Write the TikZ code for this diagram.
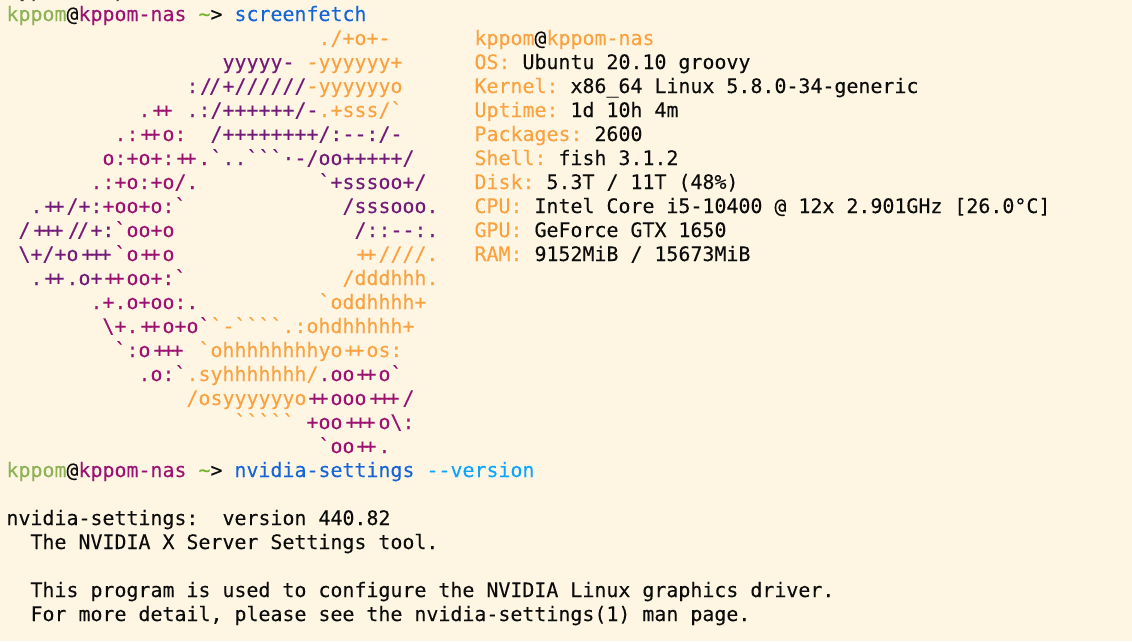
\documentclass[tikz,border=0pt]{standalone}
\usepackage{fontspec}
\newfontfamily\termfont[Ligatures=NoCommon,FakeBold=0.12]{DejaVu Sans Mono}
\definecolor{bgc}{HTML}{FEF6E3}
\definecolor{pgreen}{HTML}{8DB254}
\definecolor{tgreen}{HTML}{74B32A}
\definecolor{cmag}{HTML}{9C1272}
\definecolor{cpur}{HTML}{741B7A}
\definecolor{corg}{HTML}{F9A23F}
\definecolor{cblue}{HTML}{1565D8}
\definecolor{csky}{HTML}{0AA5FF}
\definecolor{cink}{HTML}{0C0C0C}
\newcommand{\ligpp}{\makebox[24pt][c]{+\kern-4pt+}}
\newcommand{\ligppp}{\makebox[36pt][c]{+\kern-3pt+\kern-3pt+}}
\newcommand{\ligss}{\makebox[24pt][c]{/\kern-3pt/}}
\newcommand{\rdot}{\raisebox{5pt}{.}}
\newcommand{\bs}{\textbackslash}
\newcommand{\run}[4]{\node[term,text=#3] at ({6.5+#1*12},{-21-24*#2}) {#4};}
\newcommand{\prompt}[1]{%
  \run{0}{#1}{pgreen}{kppom}\run{5}{#1}{cink}{@}\run{6}{#1}{cmag}{kppom-nas}%
  \run{16}{#1}{tgreen}{\string~}\run{17}{#1}{cink}{>}}
\tikzset{term/.style={anchor=base west,inner sep=0pt,outer sep=0pt,font=\termfont\fontsize{19.93pt}{24pt}\selectfont}}
\begin{document}
\begin{tikzpicture}[x=1pt,y=1pt]
\useasboundingbox (0,-641) rectangle (1132,0);
\fill[bgc] (0,-641) rectangle (1132,0);
% remnants of the scrolled-off line
\fill[cink!80!bgc] (20.5,-1.2) rectangle (23.5,0) (32.5,-1.2) rectangle (34.5,0) (116.5,-1.2) rectangle (118.5,0);
% prompt
\prompt{0}
\run{19}{0}{cblue}{screenfetch}
% logo
\run{26}{1}{corg}{./+o+-}
\run{18}{2}{cpur}{yyyyy-}\run{25}{2}{corg}{-yyyyyy+}
\run{15}{3}{cpur}{:\ligss+//////}\run{25}{3}{corg}{-yyyyyyo}
\run{11}{4}{cmag}{.\ligpp}\run{15}{4}{cpur}{.:/++++++/-}\run{26}{4}{corg}{.+sss/`}
\run{9}{5}{cmag}{.:\ligpp o:}\run{17}{5}{cpur}{/++++++++/:--:/-}
\run{8}{6}{cmag}{o:+o+:\ligpp.}\run{17}{6}{cpur}{`..```\rdot-/oo+++++/}
\run{7}{7}{cmag}{.:+o:+o/.}\run{26}{7}{cpur}{`+sssoo+/}
\run{2}{8}{cpur}{.\ligpp/+:}\run{8}{8}{cmag}{+oo+o:`}\run{28}{8}{cpur}{/sssooo.}
\run{1}{9}{cpur}{/\ligppp\ligss+:}\run{9}{9}{cmag}{`oo+o}\run{29}{9}{cpur}{/::--:.}
\run{1}{10}{cpur}{\bs+/+o\ligppp}\run{9}{10}{cmag}{`o\ligpp o}\run{29}{10}{corg}{\ligpp////.}
\run{2}{11}{cpur}{.\ligpp.o+}\run{8}{11}{cmag}{\ligpp oo+:`}\run{28}{11}{corg}{/dddhhh.}
\run{7}{12}{cmag}{.+.o+oo:.}\run{26}{12}{corg}{`oddhhhh+}
\run{8}{13}{cmag}{\bs+.\ligpp o+o`}\run{17}{13}{corg}{`-````.:ohdhhhhh+}
\run{9}{14}{cmag}{`:o\ligppp}\run{16}{14}{corg}{`ohhhhhhhhyo\ligpp os:}
\run{11}{15}{cmag}{.o:`}\run{15}{15}{corg}{.syhhhhhhh/}\run{26}{15}{cmag}{.oo\ligpp o`}
\run{15}{16}{corg}{/osyyyyyyo}\run{25}{16}{cmag}{\ligpp ooo\ligppp/}
\run{19}{17}{corg}{`````}\run{25}{17}{cmag}{+oo\ligppp o\bs:}
\run{26}{18}{cmag}{`oo\ligpp.}
% system info
\run{39}{1}{corg}{kppom}\run{44}{1}{cink}{@}\run{45}{1}{corg}{kppom-nas}
\run{39}{2}{corg}{OS:}\run{43}{2}{cink}{Ubuntu 20.10 groovy}
\run{39}{3}{corg}{Kernel:}\run{47}{3}{cink}{x86\_64 Linux 5.8.0-34-generic}
\run{39}{4}{corg}{Uptime:}\run{47}{4}{cink}{1d 10h 4m}
\run{39}{5}{corg}{Packages:}\run{49}{5}{cink}{2600}
\run{39}{6}{corg}{Shell:}\run{46}{6}{cink}{fish 3.1.2}
\run{39}{7}{corg}{Disk:}\run{45}{7}{cink}{5.3T / 11T (48\%)}
\run{39}{8}{corg}{CPU:}\run{44}{8}{cink}{Intel Core i5-10400 @ 12x 2.901GHz [26.0°C]}
\run{39}{9}{corg}{GPU:}\run{44}{9}{cink}{GeForce GTX 1650}
\run{39}{10}{corg}{RAM:}\run{44}{10}{cink}{9152MiB / 15673MiB}
% second command
\prompt{19}
\run{19}{19}{cblue}{nvidia-settings}\run{35}{19}{csky}{--version}
\run{0}{21}{cink}{nvidia-settings:}\run{18}{21}{cink}{version 440.82}
\run{2}{22}{cink}{The NVIDIA X Server Settings tool.}
\run{2}{24}{cink}{This program is used to configure the NVIDIA Linux graphics driver.}
\run{2}{25}{cink}{For more detail, please see the nvidia-settings(1) man page.}
\end{tikzpicture}
\end{document}
